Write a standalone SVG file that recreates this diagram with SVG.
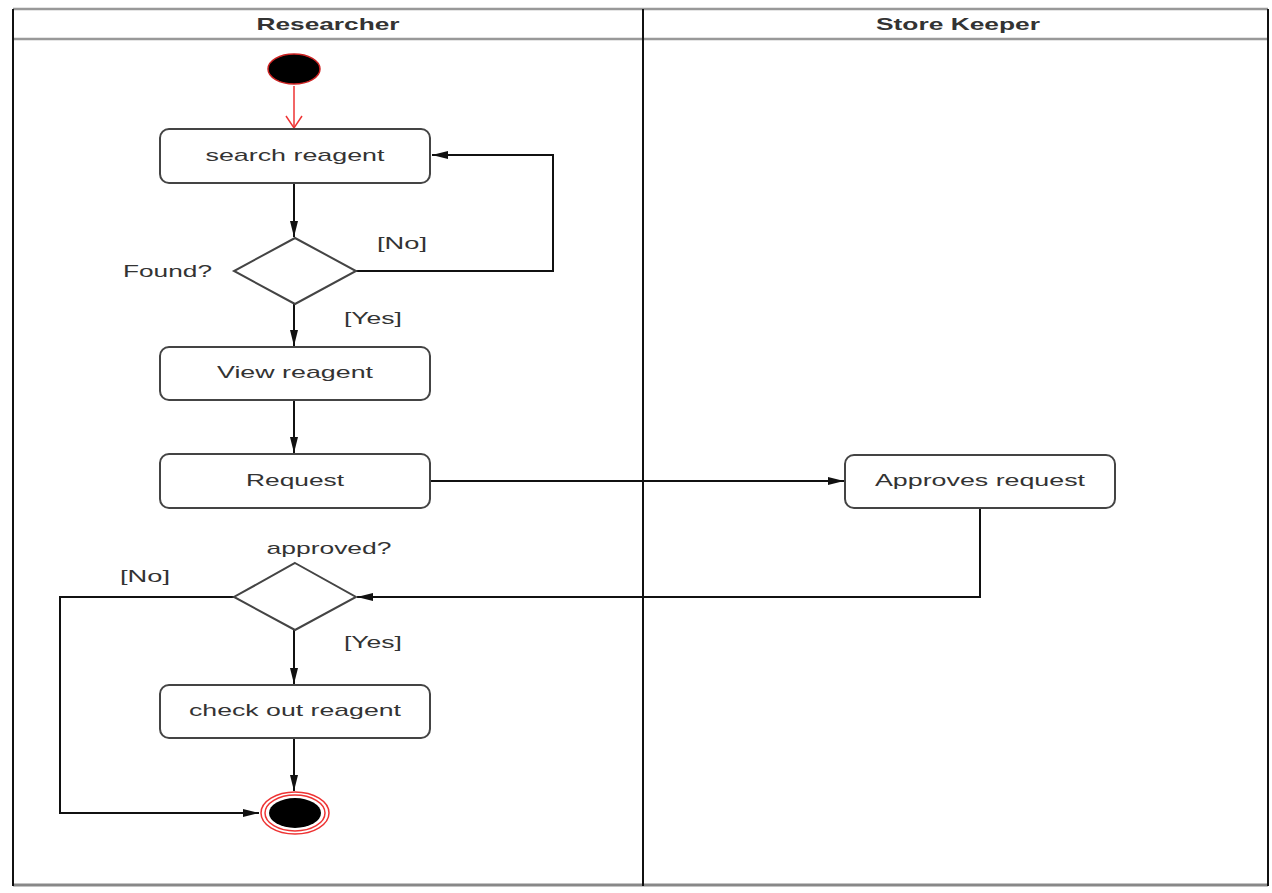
<svg xmlns="http://www.w3.org/2000/svg" width="1272" height="893" viewBox="0 0 1272 893">
<defs>
<style>
.t{font-family:"Liberation Sans",Arial,sans-serif;font-size:17px;fill:#333;}
.h{font-family:"Liberation Sans",Arial,sans-serif;font-size:17px;font-weight:bold;fill:#333;}
.box{fill:#fff;stroke:#444;stroke-width:2;}
.dia{fill:#fff;stroke:#444;stroke-width:2;}
.ln{fill:none;stroke:#111;stroke-width:2;}
.hl{fill:none;stroke:#999;stroke-width:2.5;}
</style>
<marker id="arrB" viewBox="0 0 16 10" refX="16" refY="5" markerWidth="16" markerHeight="10" orient="auto" markerUnits="userSpaceOnUse">
<path d="M0,1 L16,5 L0,9 z" fill="#111"/>
</marker>
<marker id="open" viewBox="0 0 20 20" refX="18" refY="10" markerWidth="20" markerHeight="20" orient="auto" markerUnits="userSpaceOnUse">
<path d="M6,2 L18,10 L6,18" fill="none" stroke="#e33" stroke-width="1.5"/>
</marker>
</defs>
<rect width="1272" height="893" fill="#fff"/>
<g id="lanes">
<line x1="13" y1="9" x2="1268" y2="9" class="hl"/>
<line x1="13" y1="39" x2="1268" y2="39" class="hl"/>
<line x1="13" y1="885" x2="1268" y2="885" stroke="#888" stroke-width="3"/>
<line x1="13" y1="9" x2="13" y2="886" stroke="#111" stroke-width="2"/>
<line x1="643" y1="9" x2="643" y2="886" stroke="#111" stroke-width="2"/>
<line x1="1268" y1="9" x2="1268" y2="886" stroke="#111" stroke-width="2"/>
<text class="h" x="328" y="30" text-anchor="middle" textLength="143" lengthAdjust="spacingAndGlyphs">Researcher</text>
<text class="h" x="958" y="30" text-anchor="middle" textLength="164" lengthAdjust="spacingAndGlyphs">Store Keeper</text>
</g>
<g id="connectors">
<line x1="294" y1="86" x2="294" y2="128" stroke="#e33" stroke-width="1.5" marker-end="url(#open)"/>
<line x1="294" y1="183" x2="294" y2="237" class="ln" marker-end="url(#arrB)"/>
<polyline points="356,271 553,271 553,155 432,155" class="ln" marker-end="url(#arrB)"/>
<line x1="294" y1="304" x2="294" y2="346" class="ln" marker-end="url(#arrB)"/>
<line x1="294" y1="400" x2="294" y2="453" class="ln" marker-end="url(#arrB)"/>
<line x1="430" y1="481" x2="844" y2="481" class="ln" marker-end="url(#arrB)"/>
<polyline points="980,508 980,597 357,597" class="ln" marker-end="url(#arrB)"/>
<polyline points="234,597 60,597 60,813 259,813" class="ln" marker-end="url(#arrB)"/>
<line x1="294" y1="630" x2="294" y2="684" class="ln" marker-end="url(#arrB)"/>
<line x1="294" y1="738" x2="294" y2="791" class="ln" marker-end="url(#arrB)"/>
<text class="t" x="402" y="249" text-anchor="middle" textLength="50" lengthAdjust="spacingAndGlyphs">[No]</text>
<text class="t" x="373" y="324" text-anchor="middle" textLength="58" lengthAdjust="spacingAndGlyphs">[Yes]</text>
<text class="t" x="145" y="582" text-anchor="middle" textLength="50" lengthAdjust="spacingAndGlyphs">[No]</text>
<text class="t" x="373" y="648" text-anchor="middle" textLength="58" lengthAdjust="spacingAndGlyphs">[Yes]</text>
</g>
<g id="start">
<ellipse cx="294" cy="69" rx="26" ry="15" fill="#000" stroke="#c22" stroke-width="1.5"/>
</g>
<g id="search">
<rect x="160" y="129" width="270" height="54" rx="9" class="box"/>
<text class="t" x="295" y="161" text-anchor="middle" textLength="179" lengthAdjust="spacingAndGlyphs">search reagent</text>
</g>
<g id="found">
<polygon points="295,238 356,271 295,304 234,271" class="dia"/>
<text class="t" x="212" y="277" text-anchor="end" textLength="89" lengthAdjust="spacingAndGlyphs">Found?</text>
</g>
<g id="view">
<rect x="160" y="347" width="270" height="53" rx="9" class="box"/>
<text class="t" x="295" y="378" text-anchor="middle" textLength="156" lengthAdjust="spacingAndGlyphs">View reagent</text>
</g>
<g id="request">
<rect x="160" y="454" width="270" height="54" rx="9" class="box"/>
<text class="t" x="295" y="486" text-anchor="middle" textLength="98" lengthAdjust="spacingAndGlyphs">Request</text>
</g>
<g id="approves">
<rect x="845" y="455" width="270" height="53" rx="9" class="box"/>
<text class="t" x="980" y="486" text-anchor="middle" textLength="210" lengthAdjust="spacingAndGlyphs">Approves request</text>
</g>
<g id="approved">
<polygon points="295,563 356,597 295,630 234,597" class="dia"/>
<text class="t" x="329" y="554" text-anchor="middle" textLength="125" lengthAdjust="spacingAndGlyphs">approved?</text>
</g>
<g id="checkout">
<rect x="160" y="685" width="270" height="53" rx="9" class="box"/>
<text class="t" x="295" y="716" text-anchor="middle" textLength="212" lengthAdjust="spacingAndGlyphs">check out reagent</text>
</g>
<g id="end">
<ellipse cx="295" cy="813" rx="34" ry="21" fill="#fff" stroke="#e33" stroke-width="1.5"/>
<ellipse cx="295" cy="813" rx="30" ry="18" fill="#fff" stroke="#e33" stroke-width="1.5"/>
<ellipse cx="295" cy="813" rx="26" ry="15" fill="#000"/>
</g>
</svg>
